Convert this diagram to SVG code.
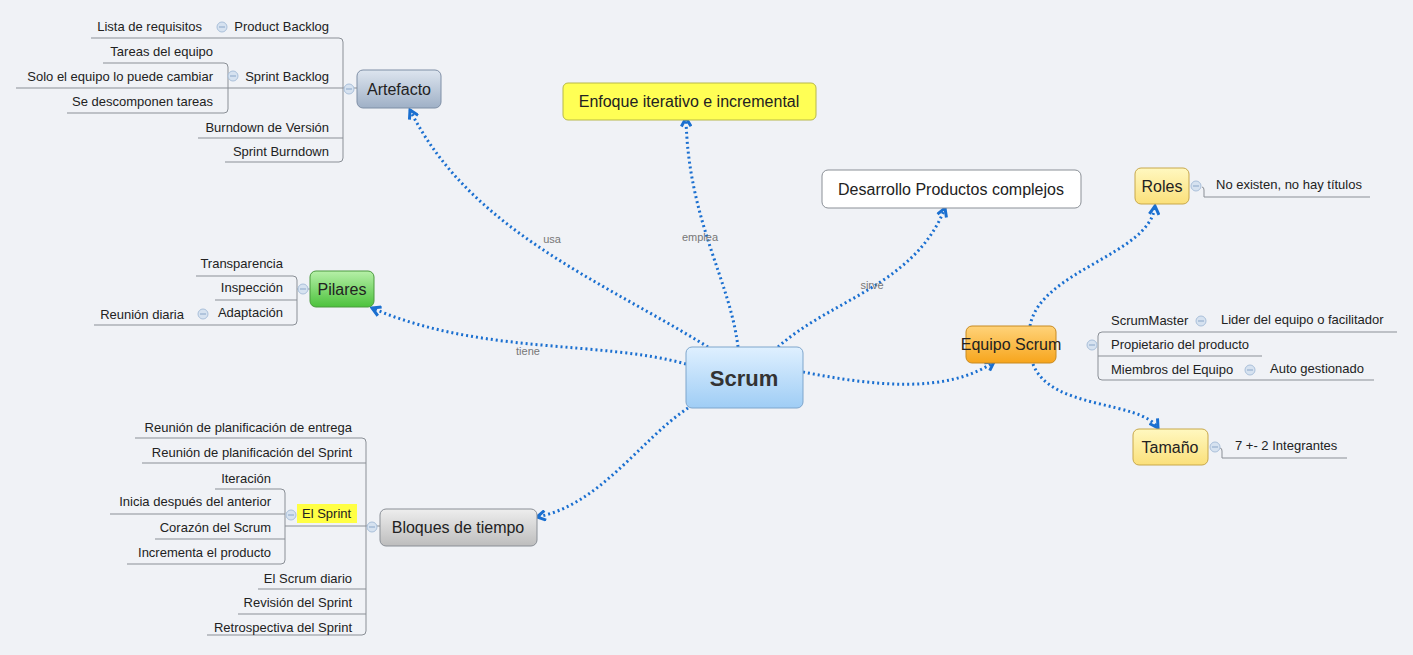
<svg xmlns="http://www.w3.org/2000/svg" width="1413" height="655" viewBox="0 0 1413 655">
<defs>
<linearGradient id="gScrum" x1="0" y1="0" x2="0" y2="1"><stop offset="0" stop-color="#dff0ff"/><stop offset="1" stop-color="#9fcdf5"/></linearGradient>
<linearGradient id="gArt" x1="0" y1="0" x2="0" y2="1"><stop offset="0" stop-color="#dde5ef"/><stop offset="1" stop-color="#9fb0c6"/></linearGradient>
<linearGradient id="gYel" x1="0" y1="0" x2="0" y2="1"><stop offset="0" stop-color="#fff8c0"/><stop offset="1" stop-color="#fbe07a"/></linearGradient>
<linearGradient id="gOr" x1="0" y1="0" x2="0" y2="1"><stop offset="0" stop-color="#ffd37a"/><stop offset="1" stop-color="#f7a51c"/></linearGradient>
<linearGradient id="gGr" x1="0" y1="0" x2="0" y2="1"><stop offset="0" stop-color="#b6f0a8"/><stop offset="1" stop-color="#4cc23c"/></linearGradient>
<linearGradient id="gGy" x1="0" y1="0" x2="0" y2="1"><stop offset="0" stop-color="#eeeeee"/><stop offset="1" stop-color="#bdbdbd"/></linearGradient>
<marker id="arr" viewBox="0 0 10 10" refX="8" refY="5" markerWidth="4" markerHeight="4" orient="auto" markerUnits="strokeWidth"><path d="M1,1 L8,5 L1,9" fill="none" stroke="#1a6fd0" stroke-width="2.5"/></marker>
</defs>
<style>
text{font-family:"Liberation Sans",Arial,sans-serif;fill:#222}
.t{font-size:13px}
.r{text-anchor:end}
.c{text-anchor:middle}
.n{font-size:16px}
.lbl{font-size:11px;fill:#777;text-anchor:middle}
.br{fill:none;stroke:#8a8f96;stroke-width:1}
.ic{fill:#d6e2f0;stroke:#aac0da;stroke-width:1}
.icm{stroke:#8aa6c8;stroke-width:1}
.con{fill:none;stroke:#1a6fd0;stroke-width:3;stroke-dasharray:2 3;marker-end:url(#arr)}
.box{stroke:#8a8f96;stroke-width:1}
</style>
<rect width="1413" height="655" fill="#f0f2f6"/>

<g id="connectors">
<path class="con" d="M708,347 C600,280 470,230 410,110"/>
<path class="con" d="M738,347 C730,280 688,220 686,118"/>
<path class="con" d="M778,347 C830,300 915,285 945,208"/>
<path class="con" d="M686,364 C600,340 480,355 372,308"/>
<path class="con" d="M688,408 C640,440 600,505 537,517"/>
<path class="con" d="M803,372 C870,385 945,395 994,362"/>
<path class="con" d="M1030,326 C1040,270 1150,255 1155,206"/>
<path class="con" d="M1033,364 C1050,410 1140,400 1158,428"/>
<text class="lbl" x="552" y="243">usa</text>
<text class="lbl" x="700" y="241">emplea</text>
<text class="lbl" x="872" y="289">sirve</text>
<text class="lbl" x="528" y="355">tiene</text>
</g>

<g id="scrum"><rect x="686" y="347" width="117" height="61" rx="6" fill="url(#gScrum)" stroke="#7fa6cc"/><text x="744" y="386" class="c" style="font-size:22px;font-weight:bold;fill:#333">Scrum</text></g>

<g id="artefacto">
<rect x="357" y="70" width="84" height="38" rx="6" fill="url(#gArt)" stroke="#7f8fa6"/><text x="399" y="95" class="c n">Artefacto</text>
<path class="br" d="M91,38 H339 Q343,38 343,42 V158 Q343,162 339,162 H225 M16,88 H357 M198,138 H343"/>
<path class="br" d="M103,63 H224 Q228,63 228,67 V109 Q228,113 224,113 H67"/>
<circle class="ic" cx="349" cy="89" r="5"/><line class="icm" x1="346" y1="89" x2="352" y2="89"/>
<circle class="ic" cx="233" cy="76" r="5"/><line class="icm" x1="230" y1="76" x2="236" y2="76"/>
<circle class="ic" cx="222" cy="27" r="5"/><line class="icm" x1="219" y1="27" x2="225" y2="27"/>
<text class="t r" x="329" y="31">Product Backlog</text>
<text class="t r" x="202" y="31">Lista de requisitos</text>
<text class="t r" x="213" y="56">Tareas del equipo</text>
<text class="t r" x="329" y="81">Sprint Backlog</text>
<text class="t r" x="213" y="81">Solo el equipo lo puede cambiar</text>
<text class="t r" x="213" y="106">Se descomponen tareas</text>
<text class="t r" x="329" y="132">Burndown de Versión</text>
<text class="t r" x="329" y="156">Sprint Burndown</text>
</g>

<g id="enfoque"><rect x="563" y="83" width="253" height="37" rx="5" fill="#ffff55" stroke="#b8b84a"/><text x="689" y="107" class="c n">Enfoque iterativo e incremental</text></g>
<g id="desarrollo"><rect x="822" y="170" width="259" height="38" rx="6" fill="#ffffff" stroke="#8a8f96"/><text x="951" y="195" class="c n">Desarrollo Productos complejos</text></g>

<g id="pilares">
<rect x="310" y="271" width="64" height="36" rx="6" fill="url(#gGr)" stroke="#4a9a3e"/><text x="342" y="295" class="c n">Pilares</text>
<path class="br" d="M196,276 H293 Q297,276 297,280 V321 Q297,325 293,325 H94 M215,300 H297 M297,289 H310"/>
<circle class="ic" cx="303" cy="289" r="5"/><line class="icm" x1="300" y1="289" x2="306" y2="289"/>
<circle class="ic" cx="203" cy="314" r="5"/><line class="icm" x1="200" y1="314" x2="206" y2="314"/>
<text class="t r" x="283" y="268">Transparencia</text>
<text class="t r" x="283" y="292">Inspección</text>
<text class="t r" x="283" y="317">Adaptación</text>
<text class="t r" x="184" y="319">Reunión diaria</text>
</g>

<g id="bloques">
<rect x="380" y="509" width="157" height="37" rx="6" fill="url(#gGy)" stroke="#8a8f96"/><text x="458" y="533" class="c n">Bloques de tiempo</text>
<path class="br" d="M135,438 H362 Q366,438 366,442 V631 Q366,635 362,635 H207 M142,463 H366 M258,589 H366 M238,614 H366 M285,526 H380"/>
<path class="br" d="M215,489 H281 Q285,489 285,493 V560 Q285,564 281,564 H127 M110,514 H285 M155,539 H285"/>
<rect x="297" y="504" width="60" height="19" fill="#ffff44"/>
<circle class="ic" cx="372" cy="527" r="5"/><line class="icm" x1="369" y1="527" x2="375" y2="527"/>
<circle class="ic" cx="291" cy="515" r="5"/><line class="icm" x1="288" y1="515" x2="294" y2="515"/>
<text class="t r" x="352" y="432">Reunión de planificación de entrega</text>
<text class="t r" x="352" y="457">Reunión de planificación del Sprint</text>
<text class="t r" x="271" y="483">Iteración</text>
<text class="t r" x="271" y="506">Inicia después del anterior</text>
<text class="t" x="302" y="518">El Sprint</text>
<text class="t r" x="271" y="532">Corazón del Scrum</text>
<text class="t r" x="271" y="557">Incrementa el producto</text>
<text class="t r" x="352" y="583">El Scrum diario</text>
<text class="t r" x="352" y="607">Revisión del Sprint</text>
<text class="t r" x="352" y="632">Retrospectiva del Sprint</text>
</g>

<g id="equipo">
<rect x="966" y="326" width="90" height="37" rx="6" fill="url(#gOr)" stroke="#c88a20"/><text x="1011" y="350" class="c n">Equipo Scrum</text>
<path class="br" d="M1397,332 H1102 Q1098,332 1098,336 V376 Q1098,380 1102,380 H1374 M1098,356 H1262"/>
<circle class="ic" cx="1092" cy="345" r="5"/><line class="icm" x1="1089" y1="345" x2="1095" y2="345"/>
<circle class="ic" cx="1201" cy="321" r="5"/><line class="icm" x1="1198" y1="321" x2="1204" y2="321"/>
<circle class="ic" cx="1250" cy="370" r="5"/><line class="icm" x1="1247" y1="370" x2="1253" y2="370"/>
<text class="t" x="1111" y="325">ScrumMaster</text>
<text class="t" x="1221" y="324">Lider del equipo o facilitador</text>
<text class="t" x="1111" y="349">Propietario del producto</text>
<text class="t" x="1111" y="374">Miembros del Equipo</text>
<text class="t" x="1270" y="373">Auto gestionado</text>
</g>

<g id="roles">
<rect x="1135" y="168" width="54" height="36" rx="6" fill="url(#gYel)" stroke="#c8a84a"/><text x="1162" y="192" class="c n">Roles</text>
<path class="br" d="M1202,187 Q1204,187 1204,190 V197 H1370"/>
<circle class="ic" cx="1196" cy="186" r="5"/><line class="icm" x1="1193" y1="186" x2="1199" y2="186"/>
<text class="t" x="1216" y="189">No existen, no hay títulos</text>
</g>

<g id="tamano">
<rect x="1133" y="429" width="75" height="36" rx="6" fill="url(#gYel)" stroke="#c8a84a"/><text x="1170" y="453" class="c n">Tamaño</text>
<path class="br" d="M1220,448 Q1222,448 1222,451 V458 H1347"/>
<circle class="ic" cx="1215" cy="447" r="5"/><line class="icm" x1="1212" y1="447" x2="1218" y2="447"/>
<text class="t" x="1235" y="450">7 +- 2 Integrantes</text>
</g>
</svg>
